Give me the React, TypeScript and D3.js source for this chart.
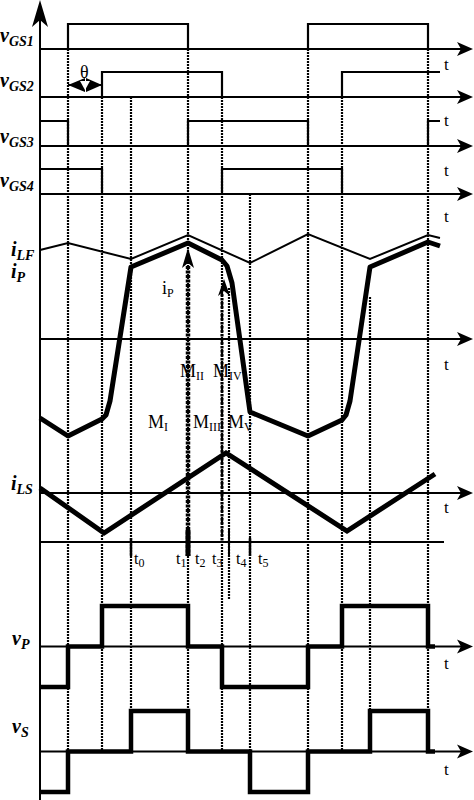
import React from 'react';
import * as d3 from 'd3';

// ---------- data (time in diagram units, 0 = vertical axis) ----------
const gateNames = ['GS1', 'GS2', 'GS3', 'GS4'];
const vGS1 = [[0, 0], [28, 1], [148, 0], [268, 1], [388, 0]];
const vGS2 = [[0, 0], [62, 1], [182, 0], [302, 1], [400, 1]];
const vGS3 = [[0, 1], [28, 0], [148, 1], [268, 0], [388, 1], [400, 1]];
const vGS4 = [[0, 1], [62, 0], [182, 1], [302, 0]];

const iLF = [[0, 89], [28, 96], [91, 80], [148, 104], [210, 76], [268, 105], [330, 80], [388, 104], [400, 101]];
const iP = [[0, -79], [28, -97], [62, -80], [66, -76], [70, -62], [91, 72], [148, 96], [182, 79], [187, 73], [192, 56],
  [210, -73], [268, -97], [302, -81], [306, -76], [310, -62], [330, 72], [388, 97], [400, 93]];
const iLS = [[0, 5], [64, -40], [186, 40], [307, -38], [395, 19]];

const vP = [[0, -1], [28, 0], [62, 1], [148, 0], [182, -1], [268, 0], [302, 1], [388, 0], [395, 0]];
const vS = [[0, -1], [28, 0], [91, 1], [148, 0], [210, -1], [268, 0], [330, 1], [388, 0], [395, 0]];

// guide lines: time, from, to
const guides: [number, string, string][] = [
  [28, 'gs1', 'vs0'], [62, 'gs2', 'vs0'], [91, 'gs2', 'vsHi'], [148, 'gs1', 'vsHi'], [182, 'gs2', 'vs0'],
  [189, 'ipA', 'mid'], [210, 'gs4', 'vs0'], [268, 'gs1', 'vs0'], [302, 'gs2', 'vs0'], [330, 'ipB', 'vsHi'], [388, 'gs1', 'vsHi'],
];
const tickTimes = [91, 148, 189, 210];
const tickKinds = ['short', 'thick', 'tall', 'short'];
const tLabels = ['0', '1', '2', '3', '4', '5'];
const tLabelTimes = [91, 148, 148, 182, 189, 210];
const tLabelDx = [3, -12, 7, -10, 7, 8];
const mTop = ['II', 'IV'];
const mTopTimes = [140, 173];
const mBottom = ['I', 'III', 'V'];
const mBottomTimes = [108, 153, 188];

const FONT = '"Liberation Serif", "DejaVu Serif", serif';

function Label({ x, y, main, sub, size = 20, subSize = 14, italic = true, bold = true, dy = 4 }: any) {
  return (
    <text x={x} y={y} fontFamily={FONT} fontSize={size} fontStyle={italic ? 'italic' : 'normal'}
      fontWeight={bold ? 'bold' : 'normal'} fill="#000">
      {main}
      <tspan fontSize={subSize} dy={dy}>{sub}</tspan>
    </text>
  );
}

export default function App() {
  const x = d3.scaleLinear().domain([0, 420]).range([40, 460]);
  const gsBase = [49, 97, 146, 194];
  const gsAmp = 25;
  const yGate = gsBase.map(b => d3.scaleLinear().domain([0, 1]).range([b, b - gsAmp]));
  const yI = d3.scaleLinear().domain([-100, 100]).range([439, 239]);
  const yLS = d3.scaleLinear().domain([-100, 100]).range([593, 393]);
  const yP = d3.scaleLinear().domain([-1, 1]).range([687, 606]);
  const yS = d3.scaleLinear().domain([-1, 1]).range([792, 711]);

  const step = (ys: any) => d3.line<number[]>().x(d => x(d[0])).y(d => ys(d[1])).curve(d3.curveStepAfter);
  const lin = (ys: any) => d3.line<number[]>().x(d => x(d[0])).y(d => ys(d[1]));

  const axisY = [gsBase[0], gsBase[1], gsBase[2], gsBase[3], yI(0), yLS(0), yP(0), yS(0)];
  const tLabelY = [70, 126, 176, 222, yI(0) + 31, yLS(0) + 20, yP(0) + 22, yS(0) + 23];
  const midLine = 542;
  const refY: Record<string, number> = {
    gs1: gsBase[0], gs2: gsBase[1], gs4: gsBase[3], ipA: 288, ipB: 297, mid: 600,
    vsHi: yS(1), vs0: yS(0),
  };
  const gates = [vGS1, vGS2, vGS3, vGS4];
  const gateLabelY = [42, 87, 143, 187];
  const ax0 = x(0);
  const axEnd = 473;

  const arrowR = (y: number) => `M${axEnd - 16},${y - 7} L${axEnd},${y} L${axEnd - 16},${y + 7} L${axEnd - 12},${y} Z`;
  const arrowUp = (cx: number, tip: number, len: number, hw: number) =>
    `M${cx},${tip} L${cx + hw},${tip + len} L${cx},${tip + len - 5} L${cx - hw},${tip + len} Z`;

  return (
    <svg width={474} height={800} style={{ display: 'block', position: 'absolute', left: 0, top: 0, background: '#fff' }}>
      <rect width={474} height={800} fill="#fff" />
      {/* guide dotted lines */}
      {guides.map(([t, a, b], i) => (
        <line key={'g' + i} x1={x(t)} x2={x(t)} y1={refY[a]} y2={refY[b]} stroke="#000" strokeWidth={2.2}
          strokeDasharray="2 1" />
      ))}
      {/* thick arrow shafts */}
      <line x1={x(148)} x2={x(148)} y1={266} y2={556} stroke="#000" strokeWidth={4.5} strokeDasharray="3 1.5" />
      <line x1={x(182)} x2={x(182)} y1={294} y2={541} stroke="#000" strokeWidth={3} strokeDasharray="2.5 1.5" />

      {/* axes */}
      <line x1={ax0} x2={ax0} y1={4} y2={800} stroke="#000" strokeWidth={2} />
      <path d={`M${ax0},0 L${ax0 + 8},27 L${ax0},20 L${ax0 - 8},27 Z`} fill="#000" />
      {axisY.map((y, i) => (
        <g key={'ax' + i}>
          <line x1={ax0} x2={axEnd - 10} y1={y} y2={y} stroke="#000" strokeWidth={2} />
          <path d={arrowR(y)} fill="#000" />
          <text x={444} y={tLabelY[i]} fontFamily={FONT} fontSize={17}>t</text>
        </g>
      ))}
      <line x1={ax0} x2={444} y1={midLine} y2={midLine} stroke="#000" strokeWidth={2} />

      {/* gate signals */}
      {gates.map((g, i) => (
        <path key={'gs' + i} d={step(yGate[i])(g as any) || ''} fill="none" stroke="#000" strokeWidth={2.2} />
      ))}
      {gateNames.map((n, i) => (
        <Label key={'gl' + i} x={0} y={gateLabelY[i]} main="v" sub={n} />
      ))}

      {/* theta */}
      <path d={`M${x(28)},85 L${x(28) + 17},78 L${x(28) + 17},92 Z`} fill="#000" />
      <path d={`M${x(62)},85 L${x(62) - 16},78 L${x(62) - 16},92 Z`} fill="#000" />
      <line x1={x(28)} x2={x(62)} y1={85} y2={85} stroke="#000" strokeWidth={2} />
      <path d={`M${x(45) - 5},81 L${x(45) + 5},81 L${x(45)},90 Z`} fill="#fff" />
      <text x={x(45) - 5} y={78} fontFamily={FONT} fontSize={18}>θ</text>

      {/* currents */}
      <path d={lin(yI)(iLF as any) || ''} fill="none" stroke="#000" strokeWidth={2} />
      <path d={lin(yI)(iP as any) || ''} fill="none" stroke="#000" strokeWidth={5} strokeLinejoin="round" />
      <path d={lin(yLS)(iLS as any) || ''} fill="none" stroke="#000" strokeWidth={5} />
      <Label x={11} y={256} main="i" sub="LF" />
      <Label x={11} y={278} main="i" sub="P" />
      <Label x={11} y={490} main="i" sub="LS" />

      {/* arrows and annotation */}
      <path d={arrowUp(x(148), 248, 20, 6)} fill="#000" />
      <path d={arrowUp(x(184), 279, 17, 6)} fill="#000" />
      <Label x={162} y={294} main="i" sub="P" size={18} subSize={12} italic={false} bold={false} dy={3} />
      {mTop.map((m, i) => (
        <Label key={'mt' + i} x={x(mTopTimes[i])} y={377} main="M" sub={m} size={18} subSize={12} italic={false} bold={false} dy={3} />
      ))}
      {mBottom.map((m, i) => (
        <Label key={'mb' + i} x={x(mBottomTimes[i])} y={428} main="M" sub={m} size={18} subSize={12} italic={false} bold={false} dy={3} />
      ))}

      {/* time ticks */}
      {tickTimes.map((t, i) => {
        const k = tickKinds[i];
        const y1 = k === 'short' ? 538 : 530;
        const w = k === 'thick' ? 5 : k === 'tall' ? 2 : 2.5;
        return <line key={'tk' + i} x1={x(t)} x2={x(t)} y1={y1} y2={556} stroke="#000" strokeWidth={w} />;
      })}
      {tLabels.map((s, i) => (
        <Label key={'tl' + i} x={x(tLabelTimes[i]) + tLabelDx[i]} y={564} main="t" sub={s} size={16} subSize={12}
          italic={false} bold={false} dy={3} />
      ))}

      {/* voltages */}
      <path d={step(yP)(vP as any) || ''} fill="none" stroke="#000" strokeWidth={4.5} />
      <path d={step(yS)(vS as any) || ''} fill="none" stroke="#000" strokeWidth={4.5} />
      <Label x={12} y={645} main="v" sub="P" />
      <Label x={12} y={733} main="v" sub="S" />
    </svg>
  );
}
